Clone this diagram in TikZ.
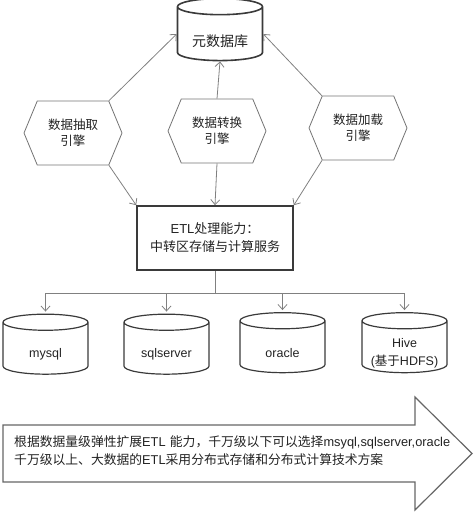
\documentclass[tikz,border=0pt]{standalone}
\usepackage{fontspec}
\setmainfont{Noto Sans CJK SC}
\newfontfamily\latf{Liberation Sans}
\newcommand{\lat}[1]{{\latf #1}}
\usetikzlibrary{arrows.meta,calc,shapes.geometric,shapes.symbols}
\definecolor{lngray}{HTML}{808080}
\definecolor{bdgray}{HTML}{3A3A3A}
\definecolor{txgray}{HTML}{222222}
\tikzset{
	arr/.style={draw=lngray, line width=0.8pt, -{Straight Barb[length=5pt,width=9pt]}},
	engine/.style={signal, signal to=east and west, signal pointer angle=135, draw=black!55, line width=0.8pt,
		minimum width=98pt, minimum height=64pt, inner sep=0pt, align=center, text=txgray,
		font=\fontsize{12.5}{16}\selectfont},
	dbase/.style={cylinder, shape border rotate=90, aspect=0.23, draw=bdgray, line width=1.2pt,
		minimum width=85pt, minimum height=60pt, inner sep=0pt, font=\fontsize{12.5}{18}\selectfont},
	dbtext/.style={text=txgray, align=center, font=\fontsize{12.5}{18}\selectfont, yshift=-6pt},
}
\newcommand{\dbwidth}{\hspace*{70pt}}
\begin{document}
\begin{tikzpicture}[x=1pt, y=-1pt]
			%%%%% START %%%%%
			\useasboundingbox (0, 0) rectangle (474, 514);
			
			\node[dbase, line width=1.6pt, minimum height=62pt,
				label={[dbtext, yshift=-1pt, font=\fontsize{14}{18}\selectfont]center:元数据库}] (meta) at (220, 34) {\dbwidth};
			
			\node[engine] (extract) at (73, 133) {数据抽取\\引擎};
			\node[engine] (transform) at (217, 131) {数据转换\\引擎};
			\node[engine] (load) at (358, 128) {数据加载\\引擎};
			
			\node[draw=bdgray, line width=1.6pt, minimum width=156pt, minimum height=64pt, align=center,
				text=txgray, font=\fontsize{13}{18}\selectfont] (etl) at (215, 238) {\lat{ETL}处理能力：\\中转区存储与计算服务};
			
			\draw[arr] (extract.north east) -- (meta.west);
			\draw[arr] (transform.north) -- (meta.south);
			\draw[arr] (load.north west) -- (meta.east);
			
			\draw[arr] (extract.south east) -- (etl.north west);
			\draw[arr] (transform.south) -- (etl.north);
			\draw[arr] (load.south west) -- (etl.north east);
			
			\node[dbase, label={[dbtext]center:\lat{mysql}}] (mysql) at (45.5, 348.5) {\dbwidth};
			\node[dbase, label={[dbtext]center:\lat{sqlserver}}] (sqlserver) at (166.5, 348.5) {\dbwidth};
			\node[dbase, label={[dbtext]center:\lat{oracle}}] (oracle) at (282.5, 347) {\dbwidth};
			\node[dbase, label={[dbtext]center:\lat{Hive}\\\lat{(}基于\lat{HDFS)}}] (hive) at (404.5, 347) {\dbwidth};
			
			\coordinate (split) at ($(etl.south)+(0,23)$);
			\draw[draw=lngray, line width=0.8pt] (etl.south) -- (split);
			\foreach \db in {mysql, sqlserver, oracle, hive}
				\draw[arr, shorten >=2pt] (split) -| (\db.north);
			
			\draw[draw=black!60, line width=1.2pt] (3, 425) -- (415, 425) -- (415, 397) -- (472, 453.5)
				-- (415, 510) -- (415, 482) -- (3, 482) -- cycle;
			\node[anchor=west, text width=450pt, align=left, inner sep=0pt, text=txgray,
				font=\fontsize{12.8}{18}\selectfont] (note) at (14, 451)
				{根据数据量级弹性扩展\lat{ETL }能力，千万级以下可以选择\lat{msyql,sqlserver,oracle}\\千万级以上、大数据的\lat{ETL}采用分布式存储和分布式计算技术方案};
			
			%%%%% END %%%%%
\end{tikzpicture}
\end{document}
